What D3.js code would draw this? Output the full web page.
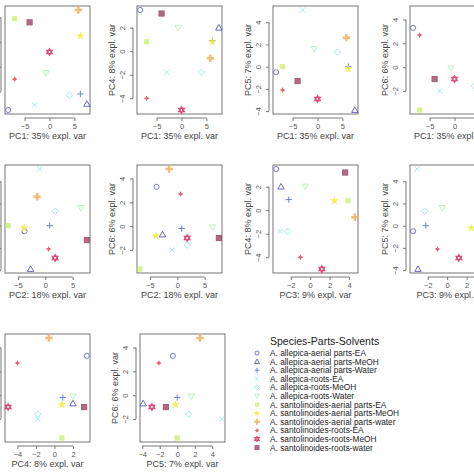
<!DOCTYPE html>
<html><head><meta charset="utf-8">
<script src="https://cdn.jsdelivr.net/npm/d3@7"></script>
<style>body{margin:0;background:#fff}</style>
</head><body>
<svg id="chart" width="474" height="474"></svg>
<script>
// Sample labels and PCA scores
const groups = ["A. allepica-aerial parts-EA","A. allepica-aerial parts-MeOH","A. allepica-aerial parts-Water",
  "A. allepica-roots-EA","A. allepica-roots-MeOH","A. allepica-roots-Water",
  "A. santolinoides-aerial parts-EA","A. santolinoides-aerial parts-MeOH","A. santolinoides-aerial parts-water",
  "A. santolinoides-roots-EA","A. santolinoides-roots-MeOH","A. santolinoides-roots-water"];
const PC1 = [-8.3, 7.5, 6.2, -3, 4, -0.7, -7, 6.2, 5.8, -7, 0, -4];
const PC2 = [-3.8, -2.7, 0.8, -1, 1.8, 6.5, -6.8, -3.9, -1.5, 0.6, 1.8, 7.6];
const PC3 = [-3.5, -3, -2.2, -3.1, -2.3, -0.5, 3.9, 2.5, 4.6, -1, 1.2, 3.6];
const PC4 = [3.5, 2, 0.9, -1.8, -1.8, 2, 0.8, 0.8, -0.6, -4, -5, 3.2];
const PC5 = [-0.5, -3.9, 0, 5.1, 1.3, 1.6, 0, -0.2, 2.6, -2.1, -2.9, -1.3];
const PC6 = [3.3, -0.7, -0.2, -2, -1.6, -0.1, -3.6, -0.8, 4.8, 2.7, -1, -1];
const explVar = {PC1: 35, PC2: 18, PC3: 9, PC4: 8, PC5: 7, PC6: 6};
const ticksFor = {PC1: [-5, 0, 5], PC2: [-5, 0, 5], PC3: [-2, 0, 2, 4], PC4: [-4, -2, 0, 2], PC5: [-4, -2, 0, 2, 4], PC6: [-2, 0, 2, 4]};
const scores = {PC1, PC2, PC3, PC4, PC5, PC6};
const colors = ["#6464cc","#5050c4","#5570dc","#98e8e8","#92e4e4","#b0f0b8","#d0ee78","#f0ee40","#f0b060","#e04858","#d83060","#a85070"];
const shapes = ["circle","tri","plus","x","diamond","tridown","square","star","cross","asterisk","david","boxsq"];

const panels = [
  {x:"PC1", y:"PC3", left:5, top:6}, {x:"PC1", y:"PC4", left:137, top:6},
  {x:"PC1", y:"PC5", left:273, top:6}, {x:"PC1", y:"PC6", left:410, top:6},
  {x:"PC2", y:"PC5", left:5, top:165}, {x:"PC2", y:"PC6", left:137, top:165},
  {x:"PC3", y:"PC4", left:273, top:165}, {x:"PC3", y:"PC5", left:410, top:165},
  {x:"PC4", y:"PC6", left:5, top:334}, {x:"PC5", y:"PC6", left:140, top:334}
];
const pw = 85, ph = 108;
const svg = d3.select("#chart");
const font = "Liberation Sans, Arial, sans-serif";

function drawSymbol(g, shape, color, s) {
  const r = s;
  g.attr("opacity", 0.85);
  const line = (d) => g.append("path").attr("d", d).attr("stroke", color).attr("fill", "none").attr("stroke-width", 1);
  switch (shape) {
    case "circle": g.append("circle").attr("r", r * 0.8).attr("fill", "none").attr("stroke", color); break;
    case "tri": line(`M0,${-r}L${r},${r * 0.75}L${-r},${r * 0.75}Z`); break;
    case "tridown": line(`M0,${r}L${r},${-r * 0.75}L${-r},${-r * 0.75}Z`); break;
    case "plus": line(`M${-r},0H${r}M0,${-r}V${r}`); break;
    case "x": line(`M${-r * 0.8},${-r * 0.8}L${r * 0.8},${r * 0.8}M${-r * 0.8},${r * 0.8}L${r * 0.8},${-r * 0.8}`); break;
    case "diamond": line(`M0,${-r}L${r},0L0,${r}L${-r},0Z`); break;
    case "square": g.append("rect").attr("x", -r * 0.8).attr("y", -r * 0.8).attr("width", r * 1.6).attr("height", r * 1.6).attr("fill", color); break;
    case "star": g.append("path").attr("d", d3.symbol(d3.symbolStar, r * r * 2.5)()).attr("fill", color); break;
    case "cross": g.append("path").attr("d", d3.symbol(d3.symbolCross, r * r * 3)()).attr("fill", color); break;
    case "asterisk":
      g.append("circle").attr("r", r * 0.5).attr("fill", color);
      line(`M${-r * 0.75},0H${r * 0.75}M0,${-r * 0.75}V${r * 0.75}`); break;
    case "david":
      line(`M0,${-r}L${r * 0.87},${r * 0.5}L${-r * 0.87},${r * 0.5}Z`).attr("stroke-width", 1.3);
      line(`M0,${r}L${r * 0.87},${-r * 0.5}L${-r * 0.87},${-r * 0.5}Z`).attr("stroke-width", 1.3); break;
    case "boxsq":
      g.append("rect").attr("x", -r * 0.8).attr("y", -r * 0.8).attr("width", r * 1.6).attr("height", r * 1.6).attr("fill", color).attr("stroke", "#904060"); break;
  }
}

function padded(arr) {
  const [a, b] = d3.extent(arr), p = (b - a) * 0.04;
  return [a - p, b + p];
}

panels.forEach(p => {
  const xs = d3.scaleLinear().domain(padded(scores[p.x])).range([p.left, p.left + pw]);
  const ys = d3.scaleLinear().domain(padded(scores[p.y])).range([p.top + ph, p.top]);
  const g = svg.append("g");
  g.append("rect").attr("x", p.left).attr("y", p.top).attr("width", pw).attr("height", ph)
    .attr("fill", "none").attr("stroke", "#777").attr("stroke-width", 1);

  const xt = ticksFor[p.x], yt = ticksFor[p.y];
  const ax = g.append("g").attr("transform", `translate(0,${p.top + ph + 4})`)
    .call(d3.axisBottom(xs).tickValues(xt).tickSize(3).tickSizeOuter(0).tickFormat(d3.format("d")));
  ax.select(".domain").remove();
  ax.append("line").attr("x1", xs(xt[0])).attr("x2", xs(xt[xt.length - 1])).attr("stroke", "#777");
  ax.selectAll("text").attr("font-size", 7.5).attr("fill", "#555").attr("font-family", font);
  ax.selectAll(".tick line").attr("stroke", "#777");

  const ay = g.append("g").attr("transform", `translate(${p.left - 4},0)`)
    .call(d3.axisLeft(ys).tickValues(yt).tickSize(3).tickSizeOuter(0).tickFormat(d3.format("d")));
  ay.select(".domain").remove();
  ay.append("line").attr("y1", ys(yt[0])).attr("y2", ys(yt[yt.length - 1])).attr("stroke", "#777");
  ay.selectAll(".tick line").attr("stroke", "#777");
  ay.selectAll(".tick text").attr("font-size", 7.5).attr("fill", "#555").attr("font-family", font)
    .attr("x", -8).attr("dy", 0).attr("text-anchor", "middle")
    .attr("transform", "rotate(-90,-8,0)");

  g.append("text").attr("x", p.left + pw / 2).attr("y", p.top + ph + 25)
    .attr("text-anchor", "middle").attr("font-size", 9).attr("fill", "#444").attr("font-family", font)
    .text(`${p.x}: ${explVar[p.x]}% expl. var`);
  g.append("text").attr("transform", `translate(${p.left - 22},${p.top + ph / 2}) rotate(-90)`)
    .attr("text-anchor", "middle").attr("font-size", 9).attr("fill", "#444").attr("font-family", font)
    .text(`${p.y}: ${explVar[p.y]}% expl. var`);

  groups.forEach((name, i) => {
    const s = g.append("g").attr("transform", `translate(${xs(scores[p.x][i])},${ys(scores[p.y][i])})`);
    drawSymbol(s, shapes[i], colors[i], 3.2);
  });
});

// Legend
const lg = svg.append("g");
lg.append("text").attr("x", 270).attr("y", 345).attr("font-size", 10.5).attr("fill", "#222")
  .attr("font-family", font).text("Species-Parts-Solvents");
groups.forEach((name, i) => {
  const y = 353 + i * 8.6;
  const s = lg.append("g").attr("transform", `translate(257,${y})`);
  drawSymbol(s, shapes[i], colors[i], 2.5);
  lg.append("text").attr("x", 270).attr("y", y + 3).attr("font-size", 8.3).attr("fill", "#222")
    .attr("font-family", font).text(name);
});
</script>
</body></html>
